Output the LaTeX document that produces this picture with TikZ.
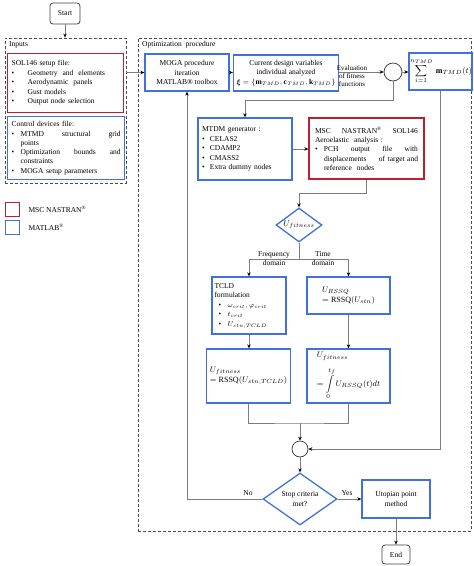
\documentclass[tikz,border=0pt]{standalone}
\usepackage{amsmath,amssymb}
\usepackage{fontspec}
\setmainfont{Liberation Serif}
\usetikzlibrary{arrows.meta,shapes.geometric}
\definecolor{matblue}{RGB}{66,112,222}
\definecolor{nasred}{RGB}{192,30,45}
\definecolor{conncol}{RGB}{125,125,125}
\tikzset{
  txt/.style={font=\fontsize{7.5}{9.5}\selectfont},
  mbox/.style={draw=matblue, line width=1.3pt, fill=white, inner sep=3pt, txt},
  nbox/.style={draw=nasred, line width=1.3pt, fill=white, inner sep=3pt, txt},
  term/.style={draw=black!75, rounded corners=3pt, line width=0.8pt, fill=white, txt},
  grp/.style={draw=black!70, densely dashed, line width=0.8pt, inner sep=0pt},
  conn/.style={draw=conncol, line width=0.7pt},
  arr/.style={conn, -{Stealth[length=4pt,width=3.5pt,black]}},
  sumc/.style={circle, draw=black!80, line width=0.7pt, minimum size=18pt, inner sep=0pt, fill=white},
  dia/.style={diamond, draw=matblue, line width=1.3pt, inner sep=0pt, fill=white, txt},
  lbl/.style={txt, inner sep=1pt, align=center},
}
\newcommand{\bl}[1]{\makebox[#1][l]{\textbullet}}
\begin{document}
\begin{tikzpicture}[x=1pt,y=-1pt]
\useasboundingbox (0,0) rectangle (474,566);
% groups
\node[grp, minimum width=121pt, minimum height=145pt] (inputs) at (65.5,110.5) {};
\node[txt, anchor=west, inner sep=1pt] (inlbl) at (8,45) {Inputs};
\node[grp, minimum width=333pt, minimum height=493pt] (opt) at (304.5,284.5) {};
\node[txt, anchor=west, inner sep=1pt] (optlbl) at (141,45) {Optimization\ \ procedure};
% inputs
\node[nbox, minimum width=116pt, minimum height=59pt, text width=108pt, align=left, anchor=north west, inner sep=4pt] (sol) at (7,53)
 {SOL146 setup file:\\
  \bl{16pt}Geometry\ \ and\ \ elements\\
  \bl{16pt}Aerodynamic\ \ panels\\
  \bl{16pt}Gust models\\
  \bl{16pt}Output node selection};
\node[mbox, minimum width=117pt, minimum height=63pt, text width=109pt, align=left, anchor=north west, inner sep=4pt, font=\fontsize{7.5}{9.3}\selectfont] (ctrl) at (7,116)
 {Control devices file:\\
  \bl{9pt}MTMD\hfill structural\hfill grid\\
  \hspace*{9pt}points\\
  \bl{9pt}Optimization\hfill bounds\hfill and\\
  \hspace*{9pt}constraints\\
  \bl{9pt}MOGA setup parameters};
% legend
\node[draw=nasred, line width=1.3pt, minimum size=14pt, inner sep=0pt, anchor=north west] (legr) at (5,202) {};
\node[txt, anchor=west] (legrt) at (25,209.5) {MSC NASTRAN\textsuperscript{®}};
\node[draw=matblue, line width=1.3pt, minimum size=14pt, inner sep=0pt, anchor=north west] (legb) at (5,220) {};
\node[txt, anchor=west] (legbt) at (25,227) {MATLAB\textsuperscript{®}};
% terminals
\node[term, minimum width=30pt, minimum height=21pt] (start) at (65,13.5) {Start};
\node[term, minimum width=28pt, minimum height=19pt] (end) at (396,554.5) {End};
% optimization boxes
\node[mbox, minimum width=84pt, minimum height=37pt, align=center] (moga) at (187,72.5)
 {MOGA procedure\\iteration\\MATLAB® toolbox};
\node[mbox, minimum width=96pt, minimum height=36pt, align=center] (des) at (286,73)
 {Current design variables\\individual analyzed\\$\boldsymbol{\xi}=\{\mathbf{m}_{TMD},\mathbf{c}_{TMD},\mathbf{k}_{TMD}\}$};
\node[sumc] (c1) at (393,72) {};
\node[mbox, minimum width=57pt, minimum height=37pt, inner sep=0pt, font=\fontsize{8}{10}\selectfont] (sum) at (440.5,71.5)
 {$\displaystyle\sum_{i=1}^{\,n_{TMD}}\,\mathbf{m}_{TMD}(t)$};
\node[mbox, minimum width=94pt, minimum height=62pt, text width=86pt, align=left] (mtdm) at (245,149)
 {MTDM generator :\\
  \bl{8pt}CELAS2\\
  \bl{8pt}CDAMP2\\
  \bl{8pt}CMASS2\\
  \bl{8pt}Extra dummy nodes};
\node[nbox, minimum width=115pt, minimum height=61pt, text width=103pt, align=left, font=\fontsize{7.5}{9.3}\selectfont] (nas) at (366.5,148.5)
 {MSC\hfill NASTRAN\textsuperscript{®}\hfill SOL146\\
  Aeroelastic\ \ analysis :\\
  \bl{9pt}PCH\hfill output\hfill file\hfill with\\
  \hspace*{9pt}displacements\hfill of target and\\
  \hspace*{9pt}reference\ \ nodes};
\node[dia, aspect=1.35, minimum width=46pt, minimum height=34pt, font=\fontsize{8.5}{10}\selectfont] (d1) at (299,225) {$U_{fitness}$};
\node[mbox, minimum width=74pt, minimum height=57pt, text width=69pt, align=left, inner sep=2pt] (tcld) at (249,305.5)
 {TCLD\\formulation\\
  \hspace*{4pt}\bl{9pt}$\omega_{crit},\varphi_{crit}$\\
  \hspace*{4pt}\bl{9pt}$t_{crit}$\\
  \hspace*{4pt}\bl{9pt}$U_{stn,TCLD}$};
\node[mbox, minimum width=83pt, minimum height=37pt, align=left, font=\fontsize{8}{10}\selectfont] (rssq) at (348.5,295.5)
 {$U_{RSSQ}$\\$=\text{RSSQ}(U_{stn})$};
\node[mbox, minimum width=83pt, minimum height=54pt, align=left, font=\fontsize{8}{10}\selectfont] (uf1) at (248.5,376)
 {$U_{fitness}$\\$=\text{RSSQ}(U_{stn,TCLD})$};
\node[mbox, minimum width=83pt, minimum height=54pt, align=left, font=\fontsize{8}{10}\selectfont] (uf2) at (348.5,376)
 {$U_{fitness}$\\[6pt]$=\displaystyle\int\limits_0^{t_f}U_{RSSQ}(t)dt$};
\node[sumc, minimum size=16pt] (c2) at (300,449) {};
\node[dia, aspect=1.4, minimum width=74pt, minimum height=52pt, align=center] (d2) at (300,499) {Stop criteria\\met?};
\node[mbox, minimum width=68pt, minimum height=38pt, align=center] (uto) at (396,499) {Utopian point\\method};
% connectors
\draw[arr] (start.south) -- (start.south |- inputs.north);
\draw[arr] (inputs.east |- moga.west) -- (moga.west);
\draw[arr] (moga.east) -- (moga.east -| des.west);
\draw[arr] (des.east |- c1.west) -- (c1.west);
\node[lbl, anchor=south, font=\fontsize{7}{8.5}\selectfont] (ev1) at (352,72) {Evaluation};
\node[lbl, anchor=north, font=\fontsize{7}{8.5}\selectfont] (ev2) at (352,72) {of fitness\\functions};
\draw[arr] (c1.east) -- (sum.west |- c1.east);
\draw[arr] (c1.south) -- ++(0,19) -| (mtdm.north);
\draw[arr] (mtdm.east) -- (mtdm.east -| nas.west);
\draw[arr] (nas.south) -- ++(0,14) -| (d1.north);
\draw[conn] (d1.south) -- ++(0,17) coordinate (br);
\draw[arr] (br) -| (tcld.north);
\draw[arr] (br) -| (rssq.north);
\node[lbl] (fd) at (274,258.5) {Frequency\\domain};
\node[lbl] (td) at (323,258.5) {Time\\domain};
\draw[arr] (tcld.south) -- (tcld.south |- uf1.north);
\draw[arr] (rssq.south) -- (uf2.north);
\coordinate (j) at (300,423);
\draw[conn] (uf1.south) |- (j) -| (uf2.south);
\draw[arr] (j) -- (c2.north);
\draw[arr] (sum.south) |- (c2.east);
\draw[arr] (c2.south) -- (d2.north);
\draw[arr] (d2.west) -| (moga.south);
\node[lbl] (no) at (248,493) {No};
\draw[arr] (d2.east) -- (uto.west);
\node[lbl] (yes) at (347,493) {Yes};
\draw[arr] (uto.south) -- (end.north);
\end{tikzpicture}
\end{document}
